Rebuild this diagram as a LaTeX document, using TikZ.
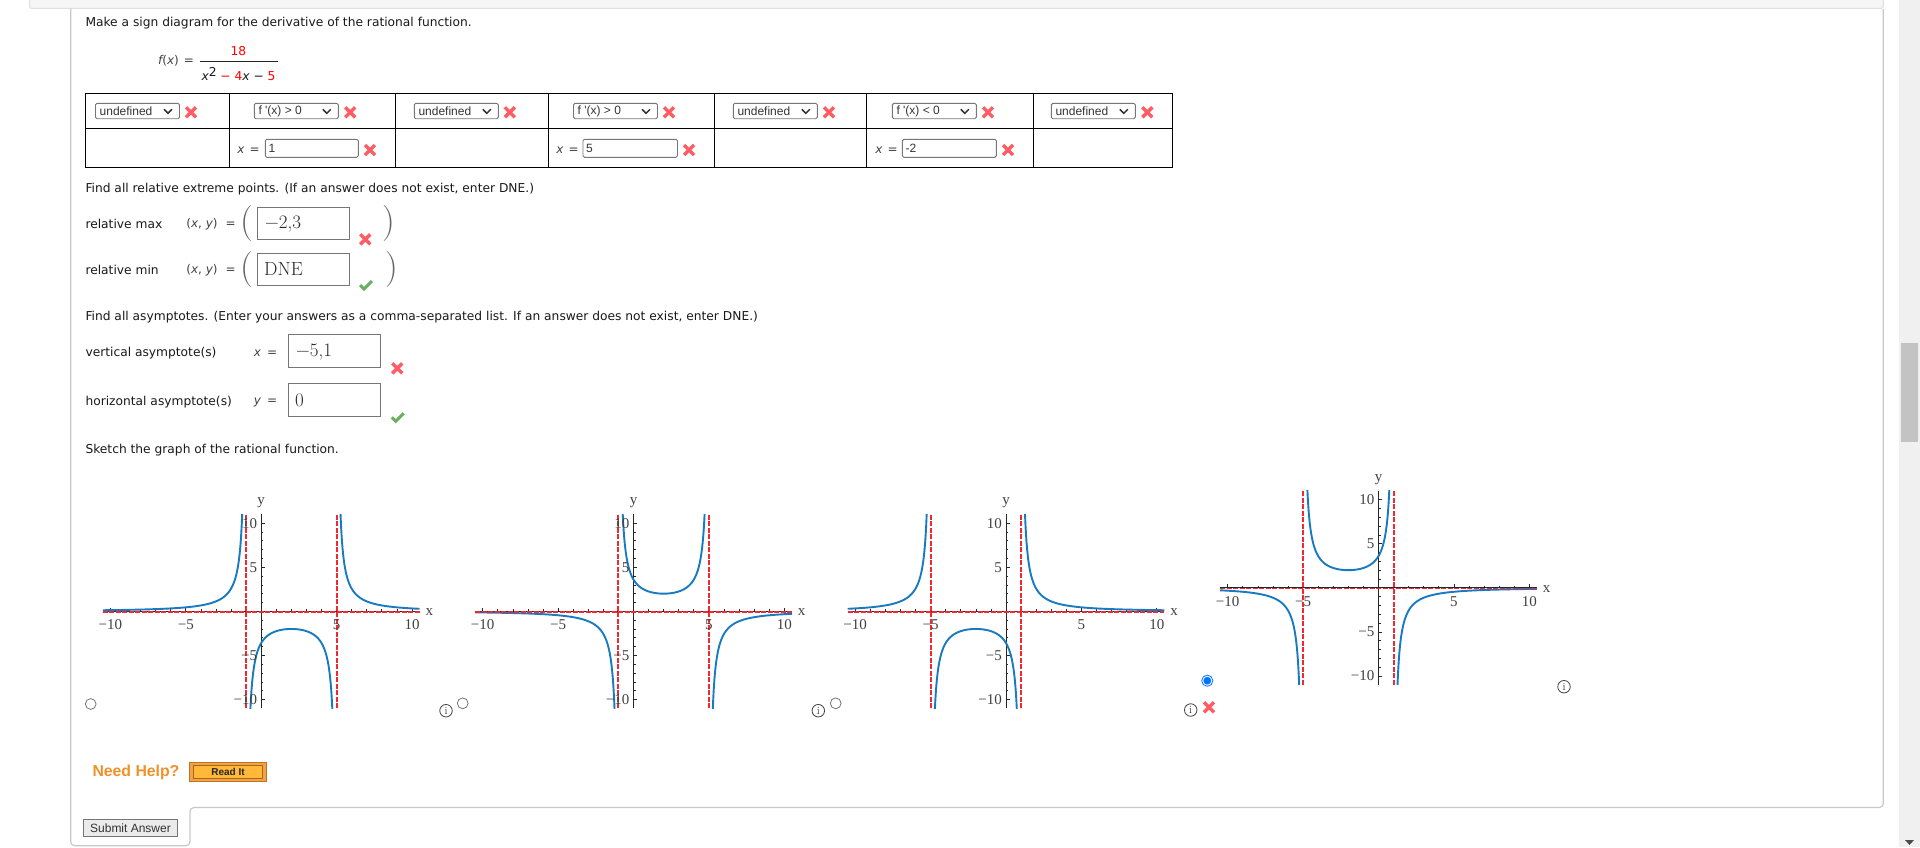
\documentclass[tikz,border=0pt]{standalone}
\usepackage[no-math]{fontspec}
\usepackage{amsmath}
\newfontfamily\pagefont{DejaVu Sans}
\newfontfamily\ctrlfont{Liberation Sans}
\newfontfamily\plotfont{Liberation Serif}
\definecolor{wrong}{RGB}{255,92,100}
\definecolor{okay}{RGB}{104,176,96}
\definecolor{ctrl}{RGB}{118,118,118}
\definecolor{rim}{RGB}{200,200,200}
\definecolor{curve}{RGB}{24,122,192}
\definecolor{asym}{RGB}{240,40,50}
\definecolor{gold}{RGB}{240,145,40}
\definecolor{pick}{RGB}{0,117,255}
\usetikzlibrary{positioning}
\tikzset{%
  txt/.style={anchor=west, inner sep=0pt, yshift=-0.8pt, font=\pagefont\fontsize{12.25}{14}\selectfont, text=black!90},% page text
  mathtxt/.style={anchor=center, inner sep=0pt, yshift=-0.5pt, font=\pagefont\itshape\fontsize{12}{14}\selectfont, text=black!75},% x = and y =
  ctrltxt/.style={anchor=west, inner sep=0pt, font=\ctrlfont\fontsize{12}{14}\selectfont, text=black!80},% select and input value
  anstxt/.style={anchor=west, inner sep=0pt, font=\rmfamily\fontsize{19}{22}\selectfont, text=black!85},% typed answer
  ansbox/.style={draw=ctrl, line width=1.2pt},% answer box
  ticktxt/.style={inner sep=0pt, font=\plotfont\fontsize{15}{17}\selectfont, text=black!75},% graph numbers
  paren/.style={inner sep=0pt, font=\rmfamily\fontsize{36}{36}\selectfont, text=black!60},% big brackets
  infotxt/.style={draw=black!75, circle, line width=0.8pt, minimum size=12.5pt, inner sep=0pt, font=\rmfamily\fontsize{11}{11}\selectfont, text=black!80}% info icon
}
% red cross
\newcommand*{\crossmark}[2]{
  \draw[wrong, line width=3.4pt] (#1-5,#2-5) -- (#1+5,#2+5) (#1-5,#2+5) -- (#1+5,#2-5);
}
% green tick
\newcommand*{\tickmark}[2]{
  \draw[okay, line width=3pt] (#1-6,#2) -- (#1-2,#2+4) -- (#1+6,#2-4);
}
% select box: name, left, top, text
\newcommand*{\selbox}[4]{
  \draw[ctrl, line width=0.9pt, rounded corners=1.5pt] (#2,#3) rectangle (#2+84,#3+15.4);
  \node[ctrltxt] (#1) at (#2+4,#3+8.2) {#4};
  \draw[black!80, line width=1.5pt] (#2+68.5,#3+6) -- (#2+72.5,#3+10) -- (#2+76.5,#3+6);
}
% input box: name, left, width, text
\newcommand*{\inbox}[4]{
  \draw[ctrl, line width=0.9pt, rounded corners=1.5pt] (#2,139.3) rectangle (#2+#3,157.3);
  \node[ctrltxt] (#1) at (#2+3,148.3) {#4};
}
% radio button
\newcommand*{\radio}[2]{
  \draw[ctrl, line width=0.8pt, fill=white] (#1,#2) circle (5.4);
}
% graph: name, origin x, origin y, sign, two asymptotes
\newcommand*{\ratgraph}[6]{
\begin{scope}[shift={(#2,#3)}, x=15.08pt, y=8.82pt]
  \foreach \t in {-10,...,10} {
    \pgfmathsetmacro{\h}{mod(abs(\t),5)==0 ? 3.6 : 2}
    \draw[black!85, line width=0.7pt] (\t,0) -- ++(0pt,\h pt);
    \draw[black!85, line width=0.7pt] (0,\t) -- ++(\h pt,0pt);
  }
  \draw[black!85, line width=0.9pt] (-10.5,0) -- (10.5,0);
  \draw[black!85, line width=0.9pt] (0,-11) -- (0,11);
  \begin{scope}
    \clip (-10.5,-11) rectangle (10.5,11);
    \pgfmathsetmacro{\lo}{#5-0.1}
    \pgfmathsetmacro{\mlo}{#5+0.1}
    \pgfmathsetmacro{\mhi}{#6-0.1}
    \pgfmathsetmacro{\hi}{#6+0.1}
    \draw[curve, line width=1.9pt, smooth, samples=120, domain=-10.5:\lo] plot (\x,{#4*18/((\x-(#5))*(\x-(#6)))});
    \draw[curve, line width=1.9pt, smooth, samples=120, domain=\mlo:\mhi] plot (\x,{#4*18/((\x-(#5))*(\x-(#6)))});
    \draw[curve, line width=1.9pt, smooth, samples=120, domain=\hi:10.5] plot (\x,{#4*18/((\x-(#5))*(\x-(#6)))});
  \end{scope}
  \draw[asym, line width=1.5pt, dash pattern=on 5pt off 1.5pt] (-10.5,-0.1) -- (10.5,-0.1);
  \draw[asym, line width=2pt, dash pattern=on 5pt off 1.5pt] (#5,-11) -- (#5,11);
  \draw[asym, line width=2pt, dash pattern=on 5pt off 1.5pt] (#6,-11) -- (#6,11);
  \node[ticktxt] (#1y) at (0,12.3) {y};
  \node[ticktxt] (#1x) at (11.15,-0.1) {x};
  \foreach \t/\s in {-10/−10,-5/−5,5/5,10/10} {
    \node[ticktxt] (#1xl\t) at (\t,-1.55) {\s};
    \node[ticktxt, anchor=east] (#1yl\t) at (-4pt,\t) {\s};
  }
\end{scope}
}
\begin{document}
\begin{tikzpicture}[x=1pt, y=-1pt]
\useasboundingbox (0,0) rectangle (1920,847);
% page frame
\draw[black!12, line width=1pt, fill=black!4, rounded corners=2pt] (29.5,-3) -- (29.5,8.3) -- (1883.3,8.3) -- (1883.3,-3);
\fill[black!6] (1899,0) rectangle (1920,847);
\fill[rim!110] (1901,342.7) rectangle (1918,442);
\fill[black!70] (1905,840) -- (1914,840) -- (1909.5,845) -- cycle;
\draw[rim, line width=1.2pt, rounded corners=4pt] (70.7,8.8) -- (70.7,845.7) -- (190,845.7) -- (190,807.5) -- (1883.3,807.5) -- (1883.3,8.8);

\node[txt] (title) at (85.3,22) {Make a sign diagram for the derivative of the rational function.};
\node[mathtxt] (fx) at (176,60.7) {f\upshape(\itshape x\upshape)\hspace{5pt}=};
\node[txt, text=red, anchor=center] (num) at (238.5,50.7) {18};
\node[txt, anchor=center] (den) at (238.5,73) {\itshape x\raisebox{4pt}{\upshape 2}\upshape{} \textcolor{red}{−} \textcolor{red}{4}\itshape x\upshape{} − \textcolor{red}{5}};
\draw[black!85, line width=1pt] (199.6,61.3) -- (277.5,61.3);

% sign table
\draw[black, line width=1pt] (85.3,93.7) rectangle (1172.3,167.3) (85.3,128.3) -- (1172.3,128.3);
\foreach \vx in {229.4,395.5,548.6,714.3,866.3,1033.3} {
  \draw[black, line width=1pt] (\vx,93.7) -- (\vx,167.3);
}
\selbox{s1}{95.5}{103.3}{undefined}
\selbox{s2}{254.3}{103.3}{f '(x) > 0}
\selbox{s3}{414.3}{103.3}{undefined}
\selbox{s4}{573.5}{103.3}{f '(x) > 0}
\selbox{s5}{733.3}{103.3}{undefined}
\selbox{s6}{892.3}{103.3}{f '(x) < 0}
\selbox{s7}{1051.3}{103.3}{undefined}
\foreach \cx in {191,350.2,509.8,669,829,988,1147.3} {
  \crossmark{\cx}{112.3}
}
\node[mathtxt] (xa) at (248.5,149.5) {x\hspace{5pt}\upshape =};
\node[mathtxt] (xb) at (567.5,149.5) {x\hspace{5pt}\upshape =};
\node[mathtxt] (xc) at (886.5,149.5) {x\hspace{5pt}\upshape =};
\inbox{ia}{265.3}{93}{1}
\inbox{ib}{583}{94.5}{5}
\inbox{ic}{902.3}{94}{-2}
\crossmark{370}{150}
\crossmark{689}{150}
\crossmark{1008}{150}

% extreme points
\node[txt] (find) at (85.3,188.7) {Find all relative extreme points. (If an answer does not exist, enter DNE.)};
\node[txt] (rmax) at (85.3,223.3) {relative max};
\node[txt] (rmin) at (85.3,269.3) {relative min};
\node[mathtxt] (pa) at (211,223.3) {\upshape(\itshape x\upshape, \itshape y\upshape)\hspace{8pt}=};
\node[mathtxt] (pb) at (211,269.3) {\upshape(\itshape x\upshape, \itshape y\upshape)\hspace{8pt}=};
\node[paren] (oa) at (247,224) {(};
\node[paren] (ca) at (389,224) {)};
\node[paren] (ob) at (247,270) {(};
\node[paren] (cb) at (392,270) {)};
\draw[ansbox] (257.5,207.3) rectangle (349.4,239.3);
\draw[ansbox] (257.5,253.3) rectangle (349.4,285.7);
\node[anstxt] (amax) at (265,224.2) {−2,3};
\node[anstxt] (amin) at (264,269.5) {DNE};
\crossmark{365.3}{239.3}
\tickmark{366}{285}

% asymptotes
\node[txt] (fasy) at (85.3,316.7) {Find all asymptotes. (Enter your answers as a comma-separated list. If an answer does not exist, enter DNE.)};
\node[txt] (vasy) at (85.3,352.7) {vertical asymptote(s)};
\node[txt] (hasy) at (85.3,401.7) {horizontal asymptote(s)};
\node[mathtxt] (vx) at (265.5,352.7) {x\hspace{6pt}\upshape =};
\node[mathtxt] (hy) at (265.5,401.7) {y\hspace{6pt}\upshape =};
\draw[ansbox] (288.3,334.3) rectangle (380.7,367.3);
\draw[ansbox] (288.3,383.3) rectangle (380.7,416.7);
\node[anstxt] (aver) at (296,351.7) {−5,1};
\node[anstxt] (ahor) at (295,400.3) {0};
\crossmark{397.3}{368.3}
\tickmark{397.7}{417.3}

\node[txt] (sketch) at (85.3,449.3) {Sketch the graph of the rational function.};

% graphs
\ratgraph{ga}{261.2}{611.3}{1}{-1}{5}
\ratgraph{gb}{633.5}{611.3}{-1}{-1}{5}
\ratgraph{gc}{1006}{611.3}{1}{-5}{1}
\ratgraph{gd}{1378.5}{587.8}{-1}{-5}{1}
\radio{90.7}{704}
\radio{462.7}{703.3}
\radio{835.7}{703.3}
\draw[pick, line width=0.8pt] (1207.3,680.7) circle (5.6);
\fill[pick] (1207.3,680.7) circle (3.9);
\node[infotxt] (ia1) at (446,710.7) {i};
\node[infotxt] (ia2) at (818.3,710.7) {i};
\node[infotxt] (ia3) at (1190.7,710) {i};
\node[infotxt] (ia4) at (1564,686.7) {i};
\crossmark{1209}{707.3}

% help and submit
\node[anchor=west, inner sep=0pt, font=\ctrlfont\bfseries\fontsize{15.8}{18}\selectfont, text=gold] (help) at (92.3,772.5) {Need Help?};
\draw[gold!80!black, line width=1pt, fill=gold!85!white] (189.3,762.3) rectangle (266.7,781.7);
\draw[gold!70!black, line width=0.6pt, fill={rgb,255:red,255;green,184;blue,56}] (193.3,765.7) rectangle (262.7,778.3);
\node[inner sep=0pt, font=\ctrlfont\bfseries\fontsize{10}{12}\selectfont, text=black!85] (readit) at (228,772.3) {Read It};
\draw[ctrl, line width=1pt, fill=black!8] (83.3,819.3) rectangle (177.7,836.7);
\node[inner sep=0pt, font=\ctrlfont\fontsize{12}{14}\selectfont, text=black!80] (submit) at (130.5,828) {Submit Answer};
\end{tikzpicture}
\end{document}
